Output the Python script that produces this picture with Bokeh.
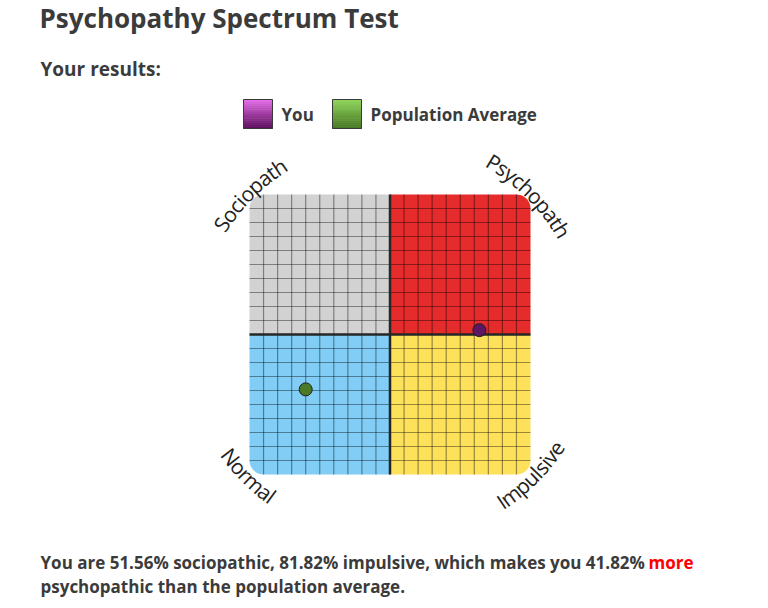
import numpy as np
from bokeh.plotting import figure
from bokeh.core.properties import value
from bokeh.embed import file_html
from bokeh.resources import INLINE

# results in percent
series = ["You", "Population Average"]
impulsive = [81.82, 20.0]
sociopathic = [51.56, 30.4]
psychopathic_diff = 41.82
point_colors = ["#5c1763", "#4b7a27"]

quadrant_names = ["Sociopath", "Psychopath", "Impulsive", "Normal"]
quadrant_colors = ["#d2d2d2", "#e52b2b", "#fde15b", "#81cdf6"]
quadrant_x = [(0, 50), (50, 100), (50, 100), (0, 50)]
quadrant_y = [(50, 100), (50, 100), (0, 50), (0, 50)]
quadrant_corner = [3, 2, 1, 0]        # which corner is rounded (bl, br, tr, tl)
quadrant_angle = [135, 45, -45, -135]  # where the curved label sits

W, H = 760, 604
# page pixels of the chart square
LEFT, RIGHT, TOP, BOTTOM = 249, 530, 194, 474
sx = (RIGHT - LEFT) / 100
sy = (BOTTOM - TOP) / 100


def fx(px):
    return (px - LEFT) / sx


def fy(py):
    return (BOTTOM - py) / sy


p = figure(width=W, height=H, x_range=(fx(0), fx(W)), y_range=(fy(H), fy(0)),
           output_backend="svg", toolbar_location=None, min_border=0,
           x_axis_type=None, y_axis_type=None)
p.grid.visible = False
p.outline_line_color = None

FONT = value("Open Sans")
DARK = "#3b3b3b"


def rounded_quad(x0, x1, y0, y1, corner, r=5):
    pts = [(x0, y0), (x1, y0), (x1, y1), (x0, y1)]
    xs, ys = [], []
    for i, (cx, cy) in enumerate(pts):
        if i != corner:
            xs.append(cx)
            ys.append(cy)
            continue
        dx = -1 if cx == x1 else 1
        dy = -1 if cy == y1 else 1
        a = np.arctan2(-dy, -dx)
        t = np.linspace(a - np.pi / 4, a + np.pi / 4, 12)
        xs += list(cx + dx * r + r * np.cos(t))
        ys += list(cy + dy * r + r * np.sin(t))
    return xs, ys


qx, qy = [], []
for (x0, x1), (y0, y1), c in zip(quadrant_x, quadrant_y, quadrant_corner):
    a, b = rounded_quad(x0, x1, y0, y1, c)
    qx.append(a)
    qy.append(b)
p.patches(qx, qy, fill_color=quadrant_colors, line_color=None)

ticks = [t for t in range(5, 100, 5) if t != 50]
p.multi_line([[t, t] for t in ticks] + [[0, 100] for t in ticks],
             [[0, 100] for t in ticks] + [[t, t] for t in ticks],
             line_color="#000000", line_alpha=0.4, line_width=1.2)
p.segment(x0=[50, 0], y0=[0, 50], x1=[50, 100], y1=[100, 50],
          line_color="#262626", line_width=2.5)

p.scatter(impulsive, sociopathic, size=13, fill_color=point_colors,
          line_color="#1e1e1e", line_width=1)

# curved quadrant labels
char_w = {"S": .55, "o": .60, "c": .48, "i": .25, "p": .61, "a": .56, "t": .35,
          "h": .61, "P": .60, "y": .50, "N": .75, "r": .41, "m": .90, "l": .25,
          "I": .28, "u": .61, "s": .47, "v": .50, "e": .56}
cxp, cyp = (LEFT + RIGHT) / 2, (TOP + BOTTOM) / 2
for name, theta in zip(quadrant_names, quadrant_angle):
    size = 21
    top = theta > 0
    r = 201
    widths = np.array([char_w.get(ch, .55) * size for ch in name]) * (0.97 if top else 0.92)
    s = np.cumsum(widths) - widths / 2 - widths.sum() / 2
    ang = np.radians(theta) + (-s / r if top else s / r)
    rot = ang - np.pi / 2 if top else ang + np.pi / 2
    p.text(x=fx(cxp + r * np.cos(ang)), y=fy(cyp - r * np.sin(ang)), text=list(name),
           angle=rot, text_align="center", text_baseline="middle",
           text_font=FONT, text_font_size=f"{size}px", text_color="#222222")

# headings
p.text(x=[fx(39)], y=[fy(17)], text=["Psychopathy Spectrum Test"], text_font=FONT,
       text_font_style="bold", text_font_size="26px", text_color=DARK,
       text_baseline="middle")
p.text(x=[fx(40)], y=[fy(68)], text=["Your results:"], text_font=FONT,
       text_font_style="bold", text_font_size="19px", text_color=DARK,
       text_baseline="middle")

# legend with gradient swatches
grad_top = [(226, 108, 230), (142, 212, 90)]
grad_bot = [(96, 17, 98), (74, 122, 38)]
box_left = [243, 332]
label_left = [281, 370]
n = 14
for name, c0, c1, bl, ll in zip(series, grad_top, grad_bot, box_left, label_left):
    f = np.linspace(0, 1, n)
    cols = ["#%02x%02x%02x" % tuple(int(c0[k] + (c1[k] - c0[k]) * v) for k in range(3)) for v in f]
    y_edges = np.linspace(99, 128, n + 1)
    p.quad(left=fx(bl), right=fx(bl + 29), top=fy(y_edges[:-1]), bottom=fy(y_edges[1:]),
           fill_color=cols, line_color=cols, line_width=0.6)
    p.quad(left=[fx(bl)], right=[fx(bl + 29)], top=[fy(99)], bottom=[fy(128)],
           fill_color=None, line_color="#3a3a3a", line_width=1)
    p.text(x=[fx(ll)], y=[fy(114)], text=[name], text_font=FONT, text_font_style="bold",
           text_font_size="17px", text_color=DARK, text_baseline="middle")

# summary sentence
line1 = (f"You are {sociopathic[0]:.2f}% sociopathic, {impulsive[0]:.2f}% impulsive, "
         f"which makes you {psychopathic_diff:.2f}%")
p.text(x=[fx(40)], y=[fy(562)], text=[line1], text_font=FONT, text_font_style="bold",
       text_font_size="17px", text_color=DARK, text_baseline="middle")
p.text(x=[fx(648)], y=[fy(562)], text=["more"], text_font=FONT, text_font_style="bold",
       text_font_size="17px", text_color="#ff0000", text_baseline="middle")
p.text(x=[fx(40)], y=[fy(586)], text=["psychopathic than the population average."],
       text_font=FONT, text_font_style="bold", text_font_size="17px", text_color=DARK,
       text_baseline="middle")

open("out.html", "w").write(file_html(p, INLINE))
